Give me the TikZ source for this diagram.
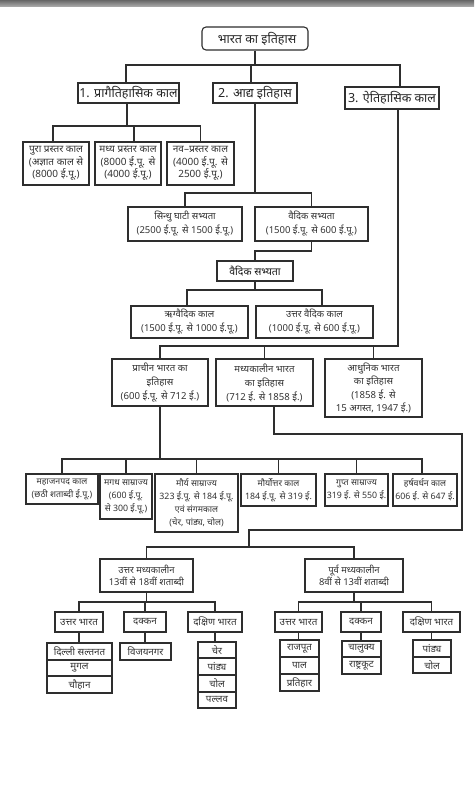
\documentclass[tikz,border=0pt]{standalone}
\usepackage{fontspec}
\setmainfont{Noto Sans}[Script=Devanagari]
\usetikzlibrary{calc}
\tikzset{
  ln/.style={draw=black!82, line width=1.1pt},
  bx/.style={draw=black!82, line width=1.1pt, fill=white, inner sep=0pt, align=center,
     text=black!80, font=\fontsize{8}{12.5}\selectfont},
  big/.style={font=\fontsize{12.5}{14}\selectfont, text=black!85},
  fa/.style={font=\fontsize{10}{12.3}\selectfont},
  fs/.style={font=\fontsize{9.5}{14}\selectfont},
  fh/.style={font=\fontsize{9.6}{14}\selectfont},
  fk/.style={font=\fontsize{8.8}{13}\selectfont},
  fm/.style={font=\fontsize{9.4}{12.5}\selectfont},
  fl/.style={font=\fontsize{9.8}{10}\selectfont},
}
\newcommand{\bxx}[7][]{\node[bx,#1,minimum width={#5-#3},minimum height={#6-#4}] (#2) at ({(#3+#5)/2},{(#4+#6)/2}) {#7};}
\begin{document}
\begin{tikzpicture}[x=1pt,y=-1pt]
\useasboundingbox (0,0) rectangle (474,803);
\fill[white] (0,0) rectangle (474,803);
\shade[top color=black!60, bottom color=black!35] (0,0) rectangle (474,6);

% bus coordinates
\coordinate (b0) at (0,65);
\coordinate (b1) at (0,126);
\coordinate (b2) at (0,193);
\coordinate (b3) at (0,251);
\coordinate (b4) at (0,290);
\coordinate (b5) at (0,346);
\coordinate (b6) at (0,459);
\coordinate (t1) at (462,434);
\coordinate (t2) at (249,530);
\coordinate (b7) at (0,547);
\coordinate (b8) at (0,602);

% level 0-1
\bxx[big, rounded corners=4pt]{root}{202}{27}{308}{50}{\hspace{4pt}भारत का इतिहास}
\bxx[big]{p1}{78}{83}{179}{103}{1. प्रागैतिहासिक काल}
\bxx[big]{p2}{213}{83}{297}{103}{2. आद्य इतिहास}
\bxx[big]{p3}{345}{87}{439}{109}{3. ऐतिहासिक काल}

% prehistoric
\bxx[fa]{a1}{23}{142}{89}{185}{पुरा प्रस्तर काल\\(अज्ञात काल से\\(8000 ई.पू.)}
\bxx[fa]{a2}{95}{142}{161}{185}{मध्य प्रस्तर काल\\(8000 ई.पू. से\\(4000 ई.पू.)}
\bxx[fa]{a3}{167}{142}{234}{185}{नव–प्रस्तर काल\\(4000 ई.पू. से\\2500 ई.पू.)}

% proto-history
\bxx[fs]{s1}{128}{207}{242}{241}{सिन्धु घाटी सभ्यता\\(2500 ई.पू. से 1500 ई.पू.)}
\bxx[fs]{s2}{255}{207}{368}{241}{वैदिक सभ्यता\\(1500 ई.पू. से 600 ई.पू.)}
\bxx[font=\bfseries\fontsize{10.5}{12}\selectfont, text=black!90]{v}{217}{261}{293}{281}{वैदिक सभ्यता}
\bxx[fs]{r1}{131}{306}{248}{338}{ऋग्वैदिक काल\\(1500 ई.पू. से 1000 ई.पू.)}
\bxx[fs]{r2}{256}{306}{373}{338}{उत्तर वैदिक काल\\(1000 ई.पू. से 600 ई.पू.)}

% historic
\bxx[fh]{h1}{112}{359}{208}{406}{प्राचीन भारत का\\इतिहास\\(600 ई.पू. से 712 ई.)}
\bxx[fh]{h2}{216}{359}{313}{406}{मध्यकालीन भारत\\का इतिहास\\(712 ई. से 1858 ई.)}
\bxx[fh, font=\fontsize{9.6}{13.3}\selectfont]{h3}{325}{359}{422}{417}{आधुनिक भारत\\का इतिहास\\(1858 ई. से\\15 अगस्त, 1947 ई.)}

% ancient
\bxx[fk]{k1}{26}{474}{98}{504}{महाजनपद काल\\(छठी शताब्दी ई.पू.)}
\bxx[fk]{k2}{100}{474}{152}{519}{मगध साम्राज्य\\(600 ई.पू.\\से 300 ई.पू.)}
\bxx[fk]{k3}{155}{474}{238}{532}{मौर्य साम्राज्य\\323 ई.पू. से 184 ई.पू.\\एवं संगमकाल\\(चेर, पांड्य, चोल)}
\bxx[fk]{k4}{241}{474}{316}{506}{मौर्योत्तर काल\\184 ई.पू. से 319 ई.}
\bxx[fk]{k5}{325}{474}{388}{506}{गुप्त साम्राज्य\\319 ई. से 550 ई.}
\bxx[fk]{k6}{393}{474}{457}{506}{हर्षवर्धन काल\\606 ई. से 647 ई.}

% medieval
\bxx[fm]{m1}{100}{559}{193}{592}{उत्तर मध्यकालीन\\13वीं से 18वीं शताब्दी}
\bxx[fm]{m2}{305}{559}{403}{592}{पूर्व मध्यकालीन\\8वीं से 13वीं शताब्दी}

\bxx[fl]{l1}{55}{612}{103}{632}{उत्तर भारत}
\bxx[fl]{l2}{124}{612}{166}{632}{दक्कन}
\bxx[fl]{l3}{188}{612}{242}{632}{दक्षिण भारत}
\bxx[fl]{q1}{275}{612}{322}{632}{उत्तर भारत}
\bxx[fl]{q2}{341}{612}{381}{632}{दक्कन}
\bxx[fl]{q3}{403}{612}{460}{632}{दक्षिण भारत}

% stacks
\bxx[fl]{L1a}{47}{643}{112}{660}{दिल्ली सल्तनत}
\bxx[fl]{L1b}{47}{660}{112}{676}{मुगल}
\bxx[fl]{L1c}{47}{676}{112}{693}{चौहान}
\bxx[fl]{L2a}{120}{643}{171}{660}{विजयनगर}
\bxx[fl]{L3a}{198}{642}{236}{658}{चेर}
\bxx[fl]{L3b}{198}{658}{236}{675}{पांड्य}
\bxx[fl]{L3c}{198}{675}{236}{692}{चोल}
\bxx[fl]{L3d}{198}{692}{236}{708}{पल्लव}
\bxx[fl]{Q1a}{280}{640}{319}{657}{राजपूत}
\bxx[fl]{Q1b}{280}{657}{319}{674}{पाल}
\bxx[fl]{Q1c}{280}{674}{319}{691}{प्रतिहार}
\bxx[fl]{Q2a}{342}{641}{381}{657}{चालुक्य}
\bxx[fl]{Q2b}{342}{657}{381}{674}{राष्ट्रकूट}
\bxx[fl]{Q3a}{413}{640}{451}{657}{पांड्य}
\bxx[fl]{Q3b}{413}{657}{451}{673}{चोल}

% connectors
\draw[ln] (root.south) -- (root.south |- b0) -| ([xshift=-2.5]p1.north);
\draw[ln] (root.south |- b0) -| ([xshift=-4]p2.north);
\draw[ln] (root.south |- b0) -| ([xshift=8]p3.north);

\draw[ln] ([xshift=-1.5]p1.south) -- ([xshift=-1.5]p1.south |- b1) -| ([xshift=-3]a1.north);
\draw[ln] ([xshift=-1.5]p1.south |- b1) -| ([xshift=6]a2.north);
\draw[ln] ([xshift=-1.5]p1.south |- b1) -| (a3.north);

\draw[ln] (p2.south) -- (p2.south |- b2) -| (s1.north);
\draw[ln] (p2.south |- b2) -| (s2.north);
\draw[ln] (s2.south) -- (s2.south |- b3) -| (v.north);
\draw[ln] (v.south) -- (v.south |- b4) -| ([xshift=-2.5]r1.north);
\draw[ln] (v.south |- b4) -| ([xshift=7.5]r2.north);

\draw[ln] ([xshift=6]p3.south) -- ([xshift=6]p3.south |- b5) -| (h1.north);
\draw[ln] ([xshift=6]p3.south |- b5) -| (h2.north);
\draw[ln] ([xshift=6]p3.south |- b5) -| (h3.north);

\draw[ln] (h1.south) -- (h1.south |- b6) -| (k1.north);
\foreach \k in {k2,k3,k4,k5} \draw[ln] (h1.south |- b6) -| (\k.north);
\draw[ln] (h1.south |- b6) -| ([xshift=-3]k6.north);

\draw[ln] ([xshift=9.5]h2.south) |- (t1) -- (t1 |- t2) -- (t2) -- (t2 |- b7) -| (m1.north);
\draw[ln] (t2 |- b7) -| (m2.north);

\draw[ln] (m1.south) -- (m1.south |- b8) -| (l1.north);
\draw[ln] (m1.south |- b8) -| (l2.north);
\draw[ln] (m1.south |- b8) -| (l3.north);
\draw[ln] (m2.south) -- (m2.south |- b8) -| (q1.north);
\draw[ln] (m2.south |- b8) -| (q2.north);
\draw[ln] (m2.south |- b8) -| (q3.north);

\draw[ln] (l1.south) -- (l1.south |- L1a.north);
\draw[ln] (l2.south) -- (l2.south |- L2a.north);
\draw[ln] (l3.south) -- (l3.south |- L3a.north);
\draw[ln] (q1.south) -- (q1.south |- Q1a.north);
\draw[ln] (q2.south) -- (q2.south |- Q2a.north);
\draw[ln] (q3.south) -- (q3.south |- Q3a.north);
\end{tikzpicture}
\end{document}
